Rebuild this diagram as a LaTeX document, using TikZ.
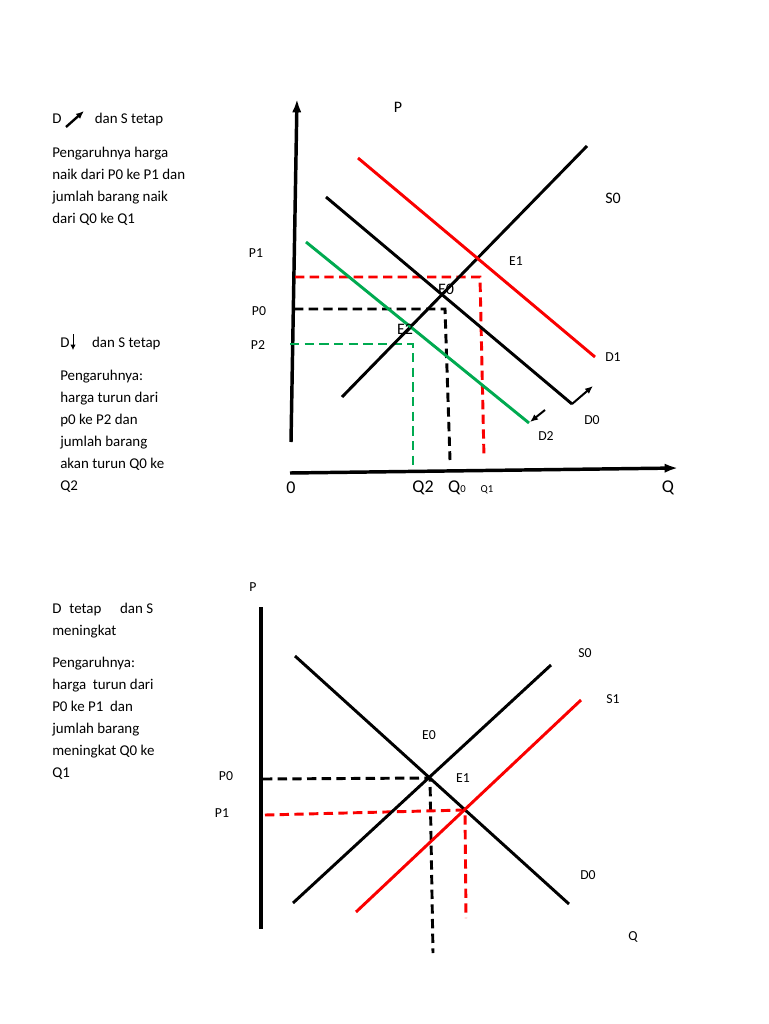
\documentclass[tikz,border=0pt]{standalone}
\usepackage{fontspec}
\setmainfont{Carlito}
\usetikzlibrary{arrows.meta}
\definecolor{redline}{RGB}{250,0,0}
\definecolor{greenline}{RGB}{0,170,80}

\begin{document}
\begin{tikzpicture}[x=0.75pt,y=-0.75pt,
		curve/.style={line width=2.2pt},
		axis/.style={line width=2.6pt},
		guide/.style={line width=2.2pt,dash pattern=on 7pt off 4pt},
		movearrow/.style={line width=1.5pt,-{Latex[length=6pt,width=5pt]}},
		lbl/.style={inner sep=0pt,font=\fontsize{10.3}{12}\selectfont},
		big/.style={inner sep=0pt,font=\fontsize{12}{14}\selectfont},
		para/.style={align=left,anchor=north west,inner sep=0pt,font=\fontsize{11.2}{16.5}\selectfont}]
		\useasboundingbox (0,0) rectangle (768,1024);
		% notes on the left
		\node[para] (noteA) at(52,113){D\hspace{25pt}dan S tetap};
		\draw[line width=1.8pt,-{Latex[length=6pt,width=5pt]}] (66,127)--(84,111);
		\node[para] (noteB) at(52,147){Pengaruhnya harga\\naik dari P0 ke P1 dan\\jumlah barang naik\\dari Q0 ke Q1};
		\node[para] (noteC) at(60,337){D\hspace{17pt}dan S tetap};
		\draw[line width=0.6pt,-{Latex[length=4pt,width=4pt]}] (73,334)--(73,350);
		\node[para] (noteD) at(60,370){Pengaruhnya:\\harga turun dari\\p0 ke P2 dan\\jumlah barang\\akan turun Q0 ke\\Q2};
		\node[para] (noteE) at(52,603){D\hspace{6pt}tetap\hspace{14pt}dan S\\meningkat};
		\node[para] (noteF) at(52,657){Pengaruhnya:\\harga\hspace{5pt}turun dari\\P0 ke P1\hspace{5pt}dan\\jumlah barang\\meningkat Q0 ke\\Q1};
		% first diagram
		\draw[axis,-{Latex[length=10pt,width=7pt]}] (291,442)--(297,99);
		\draw[axis,-{Latex[length=10pt,width=7pt]}] (290,473)--(678,468);
		\draw[guide,redline] (295,277)--(480,277)--(484,458);
		\draw[guide] (294,309)--(445,309)--(450,460);
		\draw[guide,greenline,line width=1.9pt] (290,344)--(413,344)--(413,468);
		\draw[curve] (342,397)--(587,146);
		\draw[curve,redline] (358,158)--(595,357);
		\draw[curve] (326,197)--(572,404);
		\draw[curve,greenline] (306,242)--(529,423);
		\draw[movearrow] (572,404)--(593,386);
		\draw[movearrow] (545,410)--(530,422);
		\node[big] (pA) at(398,107){P};
		\node[big] (sA) at(613,198){S0};
		\node[lbl] (eB) at(516,261){E1};
		\node[big] (eA) at(446,289){E0};
		\node[big] (eC) at(405,329){E2};
		\node[lbl] (dB) at(613,357){D1};
		\node[lbl] (dA) at(592,420){D0};
		\node[lbl] (dC) at(546,436){D2};
		\node[lbl] (pB) at(256,253){P1};
		\node[lbl] (pC) at(259,311){P0};
		\node[lbl] (pD) at(258,345){P2};
		\node[big,font=\fontsize{13.5}{15}\selectfont] (o) at(291,488){0};
		\node[big,font=\fontsize{13.5}{15}\selectfont] (qC) at(423,488){Q2};
		\node[big,font=\fontsize{13.5}{15}\selectfont] (qA) at(457,488){Q{\fontsize{8}{9}\selectfont 0}};
		\node[lbl,font=\fontsize{8}{9}\selectfont] (qB) at(487,490){Q1};
		\node[big,font=\fontsize{13.5}{15}\selectfont] (q) at(668,488){Q};
		% second diagram
		\draw[axis] (261,607)--(261,929);
		\draw[guide] (263,779)--(430,778)--(433,953);
		\draw[guide,redline] (265,815)--(465,810)--(466,918);
		\draw[curve] (295,656)--(569,904);
		\draw[curve] (293,903)--(551,665);
		\draw[curve,redline] (356,912)--(581,700);
		\node[lbl] (p) at(253,587){P};
		\node[lbl] (s) at(585,653){S0};
		\node[lbl] (sB) at(613,699){S1};
		\node[lbl] (d) at(588,875){D0};
		\node[lbl] (qq) at(633,937){Q};
		\node[lbl] (e) at(429,735){E0};
		\node[lbl] (eE) at(463,778){E1};
		\node[lbl] (pp) at(226,776){P0};
		\node[lbl] (pE) at(222,813){P1};
	\end{tikzpicture}
\end{document}
